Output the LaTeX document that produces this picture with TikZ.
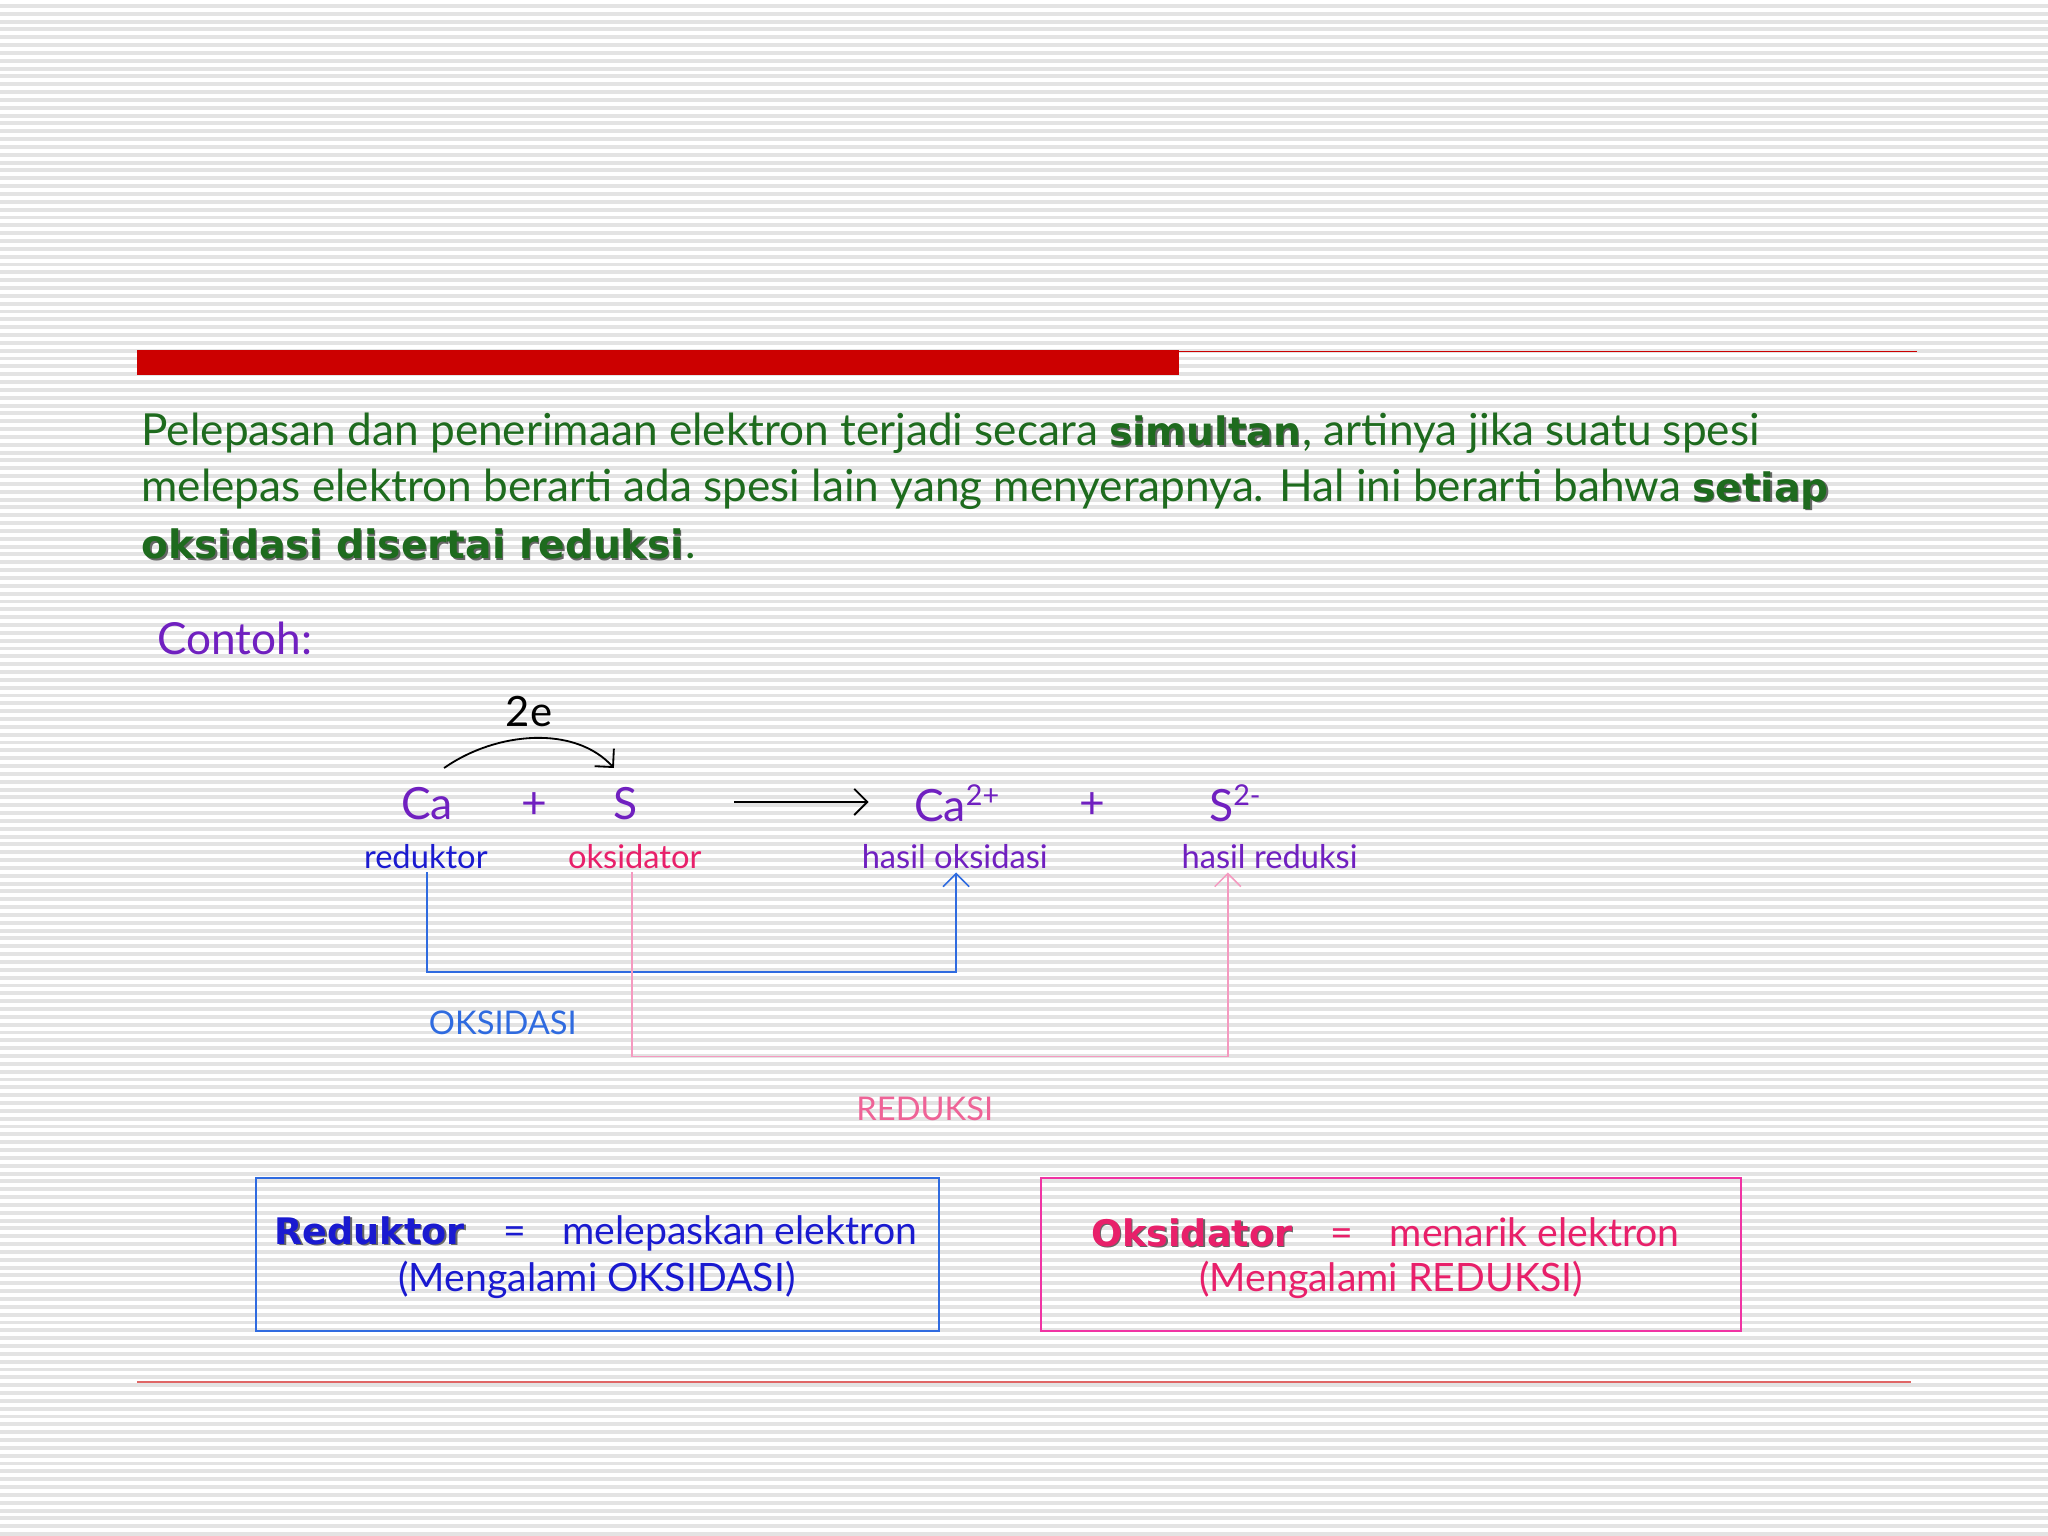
\documentclass[tikz,border=0pt]{standalone}
\usepackage{fontspec}
\setmainfont{Lato}
\newfontfamily\boldf{DejaVu Sans}
\usetikzlibrary{arrows.meta}
\definecolor{dgreen}{HTML}{1E6B1E}
\definecolor{purp}{HTML}{7020C0}
\definecolor{bl}{HTML}{1A1AD0}
\definecolor{lblue}{HTML}{2F6BE0}
\definecolor{pk}{HTML}{E8206A}
\definecolor{lpink}{HTML}{F59AC0}
\definecolor{redbar}{HTML}{CC0000}
\tikzset{
 body/.style={font=\fontsize{16.9}{21}\selectfont, text=dgreen, anchor=west, inner sep=0},
 chem/.style={font=\fontsize{17}{20}\selectfont, text=purp, inner sep=0},
 lab/.style={font=\fontsize{12.5}{15}\selectfont, inner sep=0},
 bx/.style={draw, line width=0.7pt},
}
\newcommand{\bsh}[2]{\tikz[baseline=(t.base)]{\node[inner sep=0,text=black!60] at (0.6pt,-0.6pt){\boldf\bfseries #2};\node[inner sep=0,text=#1](t){\boldf\bfseries #2};}}
\begin{document}
\begin{tikzpicture}[x=0.5pt,y=-0.5pt]
\useasboundingbox (0,0) rectangle (1568,1176);
\fill[gray!22] (0,0) rectangle (1568,1176);
\foreach \i in {0,...,195} {\fill[white] (0,\i*6) rectangle (1568,\i*6+3);}
% header bars
\fill[redbar] (105,268) rectangle (903,287);
\draw[redbar, line width=0.6pt] (903,269) -- (1468,269);
\draw[redbar!60, line width=0.5pt] (105,1058) -- (1463,1058);
% body text
\node[body] (l1) at (108,332) {Pelepasan dan penerimaan elektron terjadi secara {\fontsize{15}{21}\selectfont\bsh{dgreen}{simultan}}, artinya jika suatu spesi};
\node[body] (l2) at (108,375) {melepas elektron berarti ada spesi lain yang menyerapnya. Hal ini berarti bahwa {\fontsize{15}{21}\selectfont\bsh{dgreen}{setiap}}};
\node[body] (l3) at (108,417) {{\fontsize{15}{21}\selectfont\bsh{dgreen}{oksidasi disertai reduksi}}.};
\node[body, text=purp] (contoh) at (120,489) {Contoh:};
% reaction
\node[lab, font=\fontsize{16}{18}\selectfont] (e2) at (405,545) {2e};
\node[chem] (ca) at (327,615) {Ca};
\node[chem] (p1) at (409,617) {+};
\node[chem] (s) at (479,615) {S};
\coordinate (a1) at (562,614); \coordinate (a2) at (665,614);
\draw[-{Straight Barb[length=5pt]}, line width=0.7pt] (a1) -- (a2);
\node[chem] (ca2) at (733,615) {Ca\textsuperscript{\fontsize{11}{12}\selectfont 2+}};
\node[chem] (p2) at (836,617) {+};
\node[chem] (s2) at (946,615) {S\textsuperscript{\fontsize{11}{12}\selectfont 2-}};
\coordinate (c1) at (340,588); \coordinate (c2) at (470,588);
\draw[-{Straight Barb[length=5pt]}, line width=0.7pt] (c1) .. controls (380,560) and (440,555) .. (c2);
\node[lab, text=bl] (red) at (326,656) {reduktor};
\node[lab, text=pk] (oks) at (486,656) {oksidator};
\node[lab, text=purp] (ho) at (731,656) {hasil oksidasi};
\node[lab, text=purp] (hr) at (972,656) {hasil reduksi};
\draw[lblue, line width=0.6pt, -{Straight Barb[length=5pt]}] (327,668) |- (732,744) -- (732,668);
\draw[lpink, line width=0.6pt, -{Straight Barb[length=5pt]}] (484,668) |- (940,809) -- (940,668);
\node[lab, text=lblue] (ok) at (385,783) {OKSIDASI};
\node[lab, text=pk!70] (rd) at (708,849) {REDUKSI};
% boxes
\draw[bx, draw=lblue] (196,902) rectangle (719,1019);
\node[lab, font=\fontsize{15}{18}\selectfont, text=bl, anchor=west] (t1) at (210,944) {{\fontsize{14}{18}\selectfont\bsh{bl}{Reduktor}}\hspace{14pt}=\hspace{14pt}melepaskan elektron};
\node[lab, font=\fontsize{15}{18}\selectfont, text=bl] (t2) at (457,980) {(Mengalami OKSIDASI)};
\draw[bx, draw=magenta!80] (797,902) rectangle (1333,1019);
\node[lab, font=\fontsize{15}{18}\selectfont, text=pk, anchor=west] (t3) at (835,944) {{\fontsize{14}{18}\selectfont\bsh{pk}{Oksidator}}\hspace{14pt}=\hspace{14pt}menarik elektron};
\node[lab, font=\fontsize{15}{18}\selectfont, text=pk] (t4) at (1065,980) {(Mengalami REDUKSI)};
\end{tikzpicture}
\end{document}
